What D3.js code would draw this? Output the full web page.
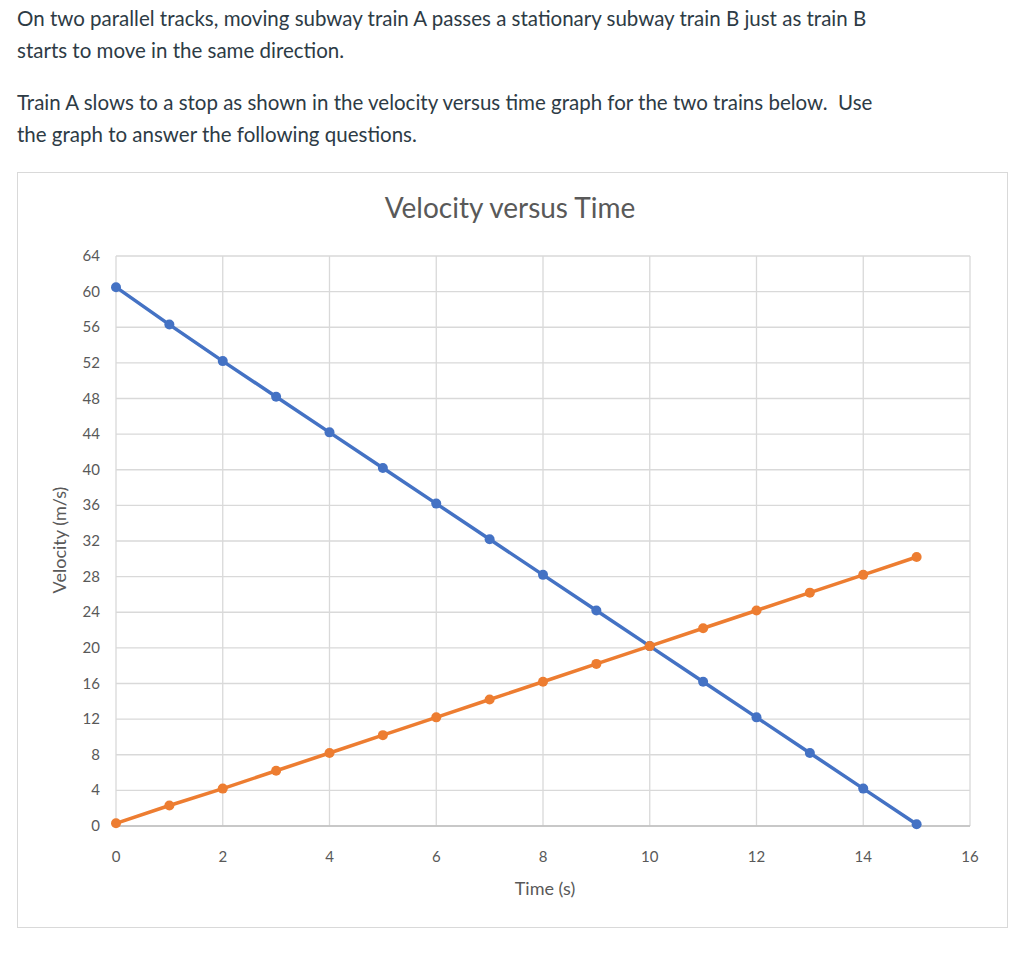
<!DOCTYPE html>
<html><head><meta charset="utf-8">
<script src="https://cdn.jsdelivr.net/npm/d3@7"></script>
<style>
body{margin:0;background:#fff;font-family:Lato,"Open Sans",sans-serif;}
p{margin:0;position:absolute;left:17px;font-size:20.5px;color:#2d3b45;line-height:32px;width:960px;}
</style></head><body>
<p style="top:2px">On two parallel tracks, moving subway train A passes a stationary subway train B just as train B<br>starts to move in the same direction.</p>
<p style="top:86px">Train A slows to a stop as shown in the velocity versus time graph for the two trains below.&nbsp; Use<br>the graph to answer the following questions.</p>
<svg id="c" width="1024" height="954" style="position:absolute;left:0;top:0"></svg>
<script>
const times=[0,1,2,3,4,5,6,7,8,9,10,11,12,13,14,15];
const trainA=[60.5,56.3,52.2,48.2,44.2,40.2,36.2,32.2,28.2,24.2,20.2,16.2,12.2,8.2,4.2,0.2];
const trainB=[0.3,2.3,4.2,6.2,8.2,10.2,12.2,14.2,16.2,18.2,20.2,22.2,24.2,26.2,28.2,30.2];
const xTicks=[0,2,4,6,8,10,12,14,16];
const yTicks=[0,4,8,12,16,20,24,28,32,36,40,44,48,52,56,60,64];
const svg=d3.select("#c");
svg.append("rect").attr("x",17.5).attr("y",172.5).attr("width",990).attr("height",755).attr("fill","#fff").attr("stroke","#d9d9d9");
const x=d3.scaleLinear().domain([0,16]).range([116,970]);
const y=d3.scaleLinear().domain([0,64]).range([826,256]);
const g=svg.append("g");
g.selectAll(".vx").data(xTicks).join("line").attr("x1",d=>x(d)).attr("x2",d=>x(d)).attr("y1",y(0)).attr("y2",y(64)).attr("stroke","#d9d9d9").attr("stroke-width",1.3);
g.selectAll(".hy").data(yTicks).join("line").attr("y1",d=>y(d)).attr("y2",d=>y(d)).attr("x1",x(0)).attr("x2",x(16)).attr("stroke","#d9d9d9").attr("stroke-width",1.3);
g.append("line").attr("x1",x(0)).attr("x2",x(16)).attr("y1",y(0)).attr("y2",y(0)).attr("stroke","#bfbfbf").attr("stroke-width",1.3);
g.selectAll(".xl").data(xTicks).join("text").attr("x",d=>x(d)).attr("y",862).attr("text-anchor","middle").attr("font-size",15).attr("fill","#595959").text(d=>d);
g.selectAll(".yl").data(yTicks).join("text").attr("x",100).attr("y",d=>y(d)+5).attr("text-anchor","end").attr("font-size",15).attr("fill","#595959").text(d=>d);
svg.append("text").attr("x",510).attr("y",218).attr("text-anchor","middle").attr("font-size",28).attr("fill","#595959").text("Velocity versus Time");
svg.append("text").attr("x",545).attr("y",895).attr("text-anchor","middle").attr("font-size",18).attr("fill","#595959").text("Time (s)");
svg.append("text").attr("transform","translate(66,540) rotate(-90)").attr("text-anchor","middle").attr("font-size",18).attr("fill","#595959").text("Velocity (m/s)");
const series=[{v:trainA,c:"#4472c4"},{v:trainB,c:"#ed7d31"}];
series.forEach(s=>{
  const line=d3.line().x((d,i)=>x(times[i])).y(d=>y(d));
  svg.append("path").datum(s.v).attr("d",line).attr("fill","none").attr("stroke",s.c).attr("stroke-width",3.5);
  svg.selectAll(null).data(s.v).join("circle").attr("cx",(d,i)=>x(times[i])).attr("cy",d=>y(d)).attr("r",5).attr("fill",s.c);
});
</script></body></html>
